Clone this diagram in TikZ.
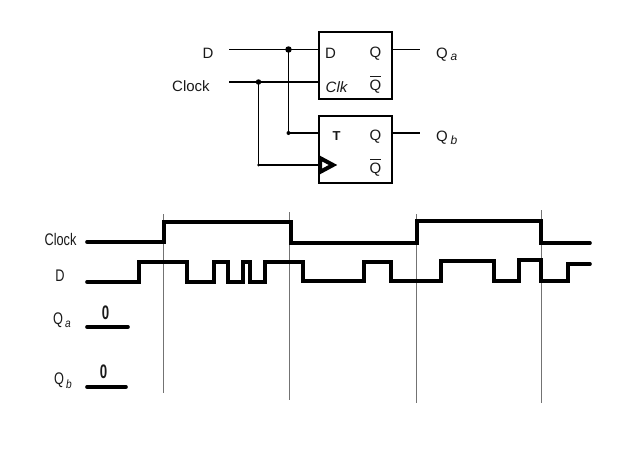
\documentclass[tikz,border=0pt]{standalone}
\usepackage{fontspec}
\setmainfont{Liberation Sans}
\usetikzlibrary{calc}
\tikzset{
  ffbox/.style={draw=black,line width=2pt,fill=none,minimum width=73pt,minimum height=67pt,inner sep=0pt,outer sep=0pt},
  wire/.style={line width=1.3pt,black},
  jdot/.style={circle,fill=black,inner sep=0pt,minimum width=#1},
  lbl/.style={font=\fontsize{15}{17}\selectfont,inner sep=0pt,text=black!90},
  tlbl/.style={font=\fontsize{15}{17}\selectfont,inner sep=0pt,xscale=.85,yscale=1.12,text=black!90},
  wave/.style={line width=3.6pt,black,line join=miter,line cap=round},
  grid/.style={line width=.9pt,black!55},
  sub/.style={font=\fontsize{12}{14}\selectfont\itshape},
  zero/.style={font=\fontsize{17}{19}\selectfont\bfseries,xscale=.78,yscale=1.15,inner sep=0pt,text=black!90},
}
\newcommand{\qbar}{\begin{tabular}{@{}c@{}}\rule{11pt}{1pt}\\[-3.2pt]Q\end{tabular}}
\begin{document}
\begin{tikzpicture}[x=1pt,y=-1pt]
\useasboundingbox (0,0) rectangle (631,450);
% flip-flops
\node[ffbox] (A) at (355.5,65.5) {};
\node[ffbox] (B) at (355.5,149.5) {};
% outer labels
\node[lbl] (lD) at (208,53) {D};
\node[lbl] (lC) at (191,86) {Clock};
\node[lbl] (aD) at (330.5,53) {D};
\node[lbl] (aQ) at (375.5,53.5) {Q};
\node[lbl,font=\fontsize{15}{17}\selectfont\itshape] (aC) at (336.5,87.5) {Clk};
\node[lbl,anchor=south,align=center] (aN) at (375.5,96) {\setlength{\tabcolsep}{0pt}\qbar};
\node[lbl,font=\fontsize{13}{15}\selectfont\bfseries] (bT) at (336.5,136) {T};
\node[lbl] (bQ) at (375.5,136.5) {Q};
\node[lbl,anchor=south,align=center] (bN) at (375.5,179) {\setlength{\tabcolsep}{0pt}\qbar};
\node[lbl] (qa) at (442,55) {Q};
\node[sub,text=black!90,inner sep=0pt] (qas) at (454,57) {a};
\node[lbl] (qb) at (442,138) {Q};
\node[sub,text=black!90,inner sep=0pt] (qbs) at (454,140) {b};
% wires
\coordinate (dS) at (229,49.5);
\coordinate (cS) at (229,82);
\coordinate (dJ) at (288.5,49.5);
\coordinate (cJ) at (258.5,82);
\coordinate (aDin) at (319,49.5);
\coordinate (aCin) at (319,82);
\coordinate (bTin) at (319,133);
\coordinate (bCin) at (319,165);
\coordinate (aOut) at (392,49.5);
\coordinate (bOut) at (392,133);
\coordinate (aEnd) at (420,49.5);
\coordinate (bEnd) at (420,133);
\draw[wire] (dS) -- (aDin);
\draw[wire] (cS) -- (aCin);
\draw[wire] (dJ) -- (dJ |- bTin) -- (bTin);
\draw[wire] (cJ) -- (cJ |- bCin) -- (bCin);
\draw[wire] (aOut) -- (aEnd);
\draw[wire] (bOut) -- (bEnd);
\node[jdot=6.5pt] (j1) at (dJ) {};
\node[jdot=5.5pt] (j2) at (cJ) {};
\node[jdot=4pt] (j3) at (dJ |- bTin) {};
\node[jdot=3pt] (j4) at (cJ |- bCin) {};
% clock triangle
\draw[line width=4pt,black,line join=miter] (320,158) -- (333,165) -- (320,172) -- cycle;
% timing guides
\draw[grid] (163,214) -- (163,393);
\draw[grid] (289,212) -- (289,400);
\draw[grid] (416.5,214) -- (416.5,403);
\draw[grid] (541,210) -- (541,403);
% timing labels
\node[tlbl] (tC) at (60.5,239) {Clock};
\node[tlbl] (tD) at (60,276) {D};
\node[tlbl] (tQa) at (58,320) {Q};
\node[sub,xscale=.85,text=black!90,inner sep=0pt] (tQas) at (68,324) {a};
\node[tlbl] (tQb) at (59,380) {Q};
\node[sub,xscale=.85,text=black!90,inner sep=0pt] (tQbs) at (69,384) {b};
\node[zero] (z1) at (105.5,313) {0};
\node[zero] (z2) at (103.5,372) {0};
% waveforms
\draw[wave] (87,242) -- (164,242) -- (164,222) -- (291,222) -- (291,243) -- (417,243) -- (417,221) -- (541,221) -- (541,243) -- (590,243);
\draw[wave] (87,282) -- (139,282) -- (139,262) -- (187,262) -- (187,282) -- (214,282) -- (214,262) -- (228,262) -- (228,282) -- (243,282) -- (243,262) -- (250,262) -- (250,282) -- (265,282) -- (265,262) -- (303,262) -- (303,281) -- (364,281) -- (364,262) -- (391,262) -- (391,281) -- (441,281) -- (441,261) -- (494,261) -- (494,281) -- (519,281) -- (519,260) -- (541,260) -- (541,281) -- (568,281) -- (568,264) -- (590,264);
\draw[wave] (87,327) -- (128,327);
\draw[wave] (87,387) -- (126,387);
\end{tikzpicture}
\end{document}
